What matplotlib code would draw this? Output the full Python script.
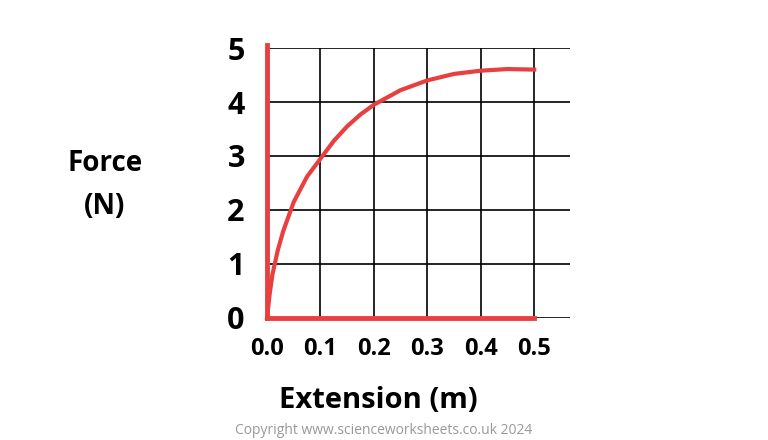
import matplotlib
matplotlib.use("Agg")
import matplotlib.pyplot as plt

extension = [0, 0.005, 0.01, 0.02, 0.03, 0.05, 0.075, 0.1, 0.125, 0.15, 0.175, 0.2, 0.25, 0.3, 0.35, 0.4, 0.45, 0.5]
force = [0, 0.45, 0.8, 1.25, 1.6, 2.15, 2.62, 2.95, 3.28, 3.55, 3.77, 3.95, 4.22, 4.4, 4.52, 4.58, 4.61, 4.6]
xticks = [0.0, 0.1, 0.2, 0.3, 0.4, 0.5]
yticks = [0, 1, 2, 3, 4, 5]

plt.rcParams['font.family'] = ['Open Sans', 'DejaVu Sans']
fig = plt.figure(figsize=(7.68, 4.4), dpi=100)
ax = fig.add_axes([0.3477, 0.2773, 0.3945, 0.6136])
red = '#e84040'
ax.set_xlim(0, 0.567)
ax.set_ylim(0, 5)
ax.set_xticks(xticks)
ax.set_yticks(yticks)
ax.set_xticklabels([f"{v:.1f}" for v in xticks], fontsize=17, fontweight='bold')
ax.set_yticklabels([str(v) for v in yticks], fontsize=22, fontweight='bold')
ax.grid(True, color='black', linewidth=1.2)
ax.tick_params(axis='x', length=0, pad=14)
ax.tick_params(axis='y', length=0, pad=16)
for s in ax.spines.values():
    s.set_visible(False)
ax.plot(extension, force, color=red, linewidth=3, clip_on=False, zorder=3)
ax.plot([0, 0], [0, 5.05], color=red, linewidth=3.5, clip_on=False, zorder=3)
ax.plot([0, 0.5], [0, 0], color=red, linewidth=3.5, clip_on=False, zorder=3)
fig.text(105/768, 1-185/440, "Force\n(N)", ha='center', va='center', fontsize=20, fontweight='bold', linespacing=1.6)
fig.text(378/768, 1-400/440, "Extension (m)", ha='center', va='center', fontsize=21, fontweight='bold')
fig.text(384/768, 1-430/440, "Copyright www.scienceworksheets.co.uk 2024", ha='center', va='center', fontsize=10, color='#999999')
fig.savefig("out.png", dpi=100)
